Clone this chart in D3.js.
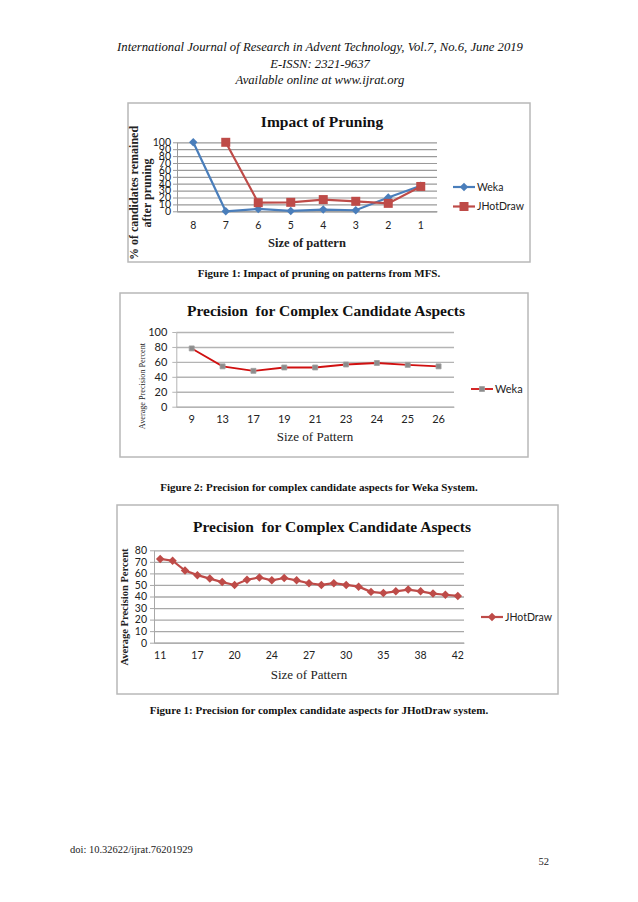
<!DOCTYPE html>
<html><head><meta charset="utf-8">
<script src="https://cdn.jsdelivr.net/npm/d3@7"></script>
<style>body{margin:0;background:#fff} text.ttl{white-space:pre}</style>
</head><body><svg id="page" width="638" height="902"></svg>
<script>
// ---------- data ----------
const pruneSizes = ["8","7","6","5","4","3","2","1"];
const pruneWeka = [100, 0, 3.5, 0.5, 2.5, 1.5, 20, 37];
const pruneJHotDraw = [null, 100, 12.5, 13, 17, 14.5, 11.5, 36];
const pruneTicks = [0,10,20,30,40,50,60,70,80,90,100];

const wekaSizes = ["9","13","17","19","21","23","24","25","26"];
const wekaPrecision = [78, 54, 48, 52.5, 52.5, 56.5, 58.5, 56, 54];
const wekaTicks = [0,20,40,60,80,100];

const jhotSizes = ["11","13","15","17","18","19","20","21","23","24","25","26","27","28","29","30","31","33","35","36","37","38","39","40","42"];
const jhotShownLabels = ["11","17","20","24","27","30","35","38","42"];
const jhotPrecision = [72.5, 71, 62.5, 58.5, 55.5, 52.5, 50, 54.5, 56.5, 54, 56, 54, 51.5, 50, 51.5, 50, 48.5, 44, 43, 44.5, 46, 44.5, 42.5, 41.5, 40.5];
const jhotTicks = [0,10,20,30,40,50,60,70,80];

const headerLines = ["International Journal of Research in Advent Technology, Vol.7, No.6, June 2019", "E-ISSN: 2321-9637", "Available online at www.ijrat.org"];

// ---------- page ----------
const serif = "'Liberation Serif','Times New Roman',serif";
const sans = "Lato,'Liberation Sans',sans-serif";
const svg = d3.select("#page");
svg.append("rect").attr("width",638).attr("height",902).attr("fill","#fff");

svg.selectAll("text.hdr").data(headerLines).join("text")
  .attr("class","hdr").attr("x",320).attr("y",(d,i)=>[51,67.5,84][i])
  .attr("text-anchor","middle").attr("font-family",serif).attr("font-style","italic")
  .attr("font-size",12.7).attr("fill","#111").text(d=>d);

function caption(txt, y){
  svg.append("text").attr("x",319).attr("y",y).attr("text-anchor","middle")
    .attr("font-family",serif).attr("font-weight","bold").attr("font-size",11)
    .attr("fill","#111").text(txt);
}
caption("Figure 1: Impact of pruning on patterns from MFS.", 277);
caption("Figure 2: Precision for complex candidate aspects for Weka System.", 491);
caption("Figure 1: Precision for complex candidate aspects for JHotDraw system.", 714);

svg.append("text").attr("x",70).attr("y",853).attr("font-family",serif).attr("font-size",10.5).attr("fill","#222").text("doi: 10.32622/ijrat.76201929");
svg.append("text").attr("x",549).attr("y",865).attr("text-anchor","end").attr("font-family",serif).attr("font-size",10.5).attr("fill","#222").text("52");

let clipId = 0;
function lineChart(o){
  const g = svg.append("g");
  const [bx0,by0,bx1,by1] = o.box;
  const cid = "clip"+(clipId++);
  g.append("clipPath").attr("id",cid).append("rect").attr("x",bx0).attr("y",by0).attr("width",bx1-bx0).attr("height",by1-by0);
  g.append("rect").attr("x",bx0).attr("y",by0).attr("width",bx1-bx0).attr("height",by1-by0)
    .attr("fill","#fff").attr("stroke","#b8b8b8").attr("stroke-width",1.5);
  const inner = g.append("g").attr("clip-path",`url(#${cid})`);

  const x = d3.scaleBand().domain(o.categories).range([o.plot.left,o.plot.right]);
  const y = d3.scaleLinear().domain([0,o.yMax]).range([o.plot.bottom,o.plot.top]);
  const w = o.plot.right-o.plot.left;

  // gridlines
  const grid = inner.append("g").attr("transform",`translate(${o.plot.left},0)`)
    .call(d3.axisLeft(y).tickValues(o.yTicks).tickSize(-w).tickFormat(""));
  grid.select(".domain").remove();
  grid.selectAll("line").attr("stroke",o.gridColor).attr("stroke-width",o.gridWidth);

  // left axis
  const ya = inner.append("g").attr("transform",`translate(${o.plot.left},0)`)
    .call(d3.axisLeft(y).tickValues(o.yTicks).tickSize(4).tickSizeOuter(0).tickPadding(o.tickPad));
  ya.select(".domain").attr("stroke",o.gridColor).attr("stroke-width",1);
  ya.selectAll("line").attr("stroke",o.gridColor);
  ya.selectAll("text").attr("font-family",sans).attr("font-size",o.tickFont).attr("fill","#222");

  // bottom axis
  const xa = inner.append("g").attr("transform",`translate(0,${o.plot.bottom})`)
    .call(d3.axisBottom(x).tickValues(o.shownLabels || o.categories).tickSize(0).tickPadding(o.xPad));
  xa.select(".domain").attr("stroke",o.gridColor).attr("stroke-width",1);
  xa.selectAll("text").attr("font-family",sans).attr("font-size",o.tickFont).attr("fill","#222");

  // title
  inner.append("text").attr("class","ttl").attr("x",o.titlePos[0]).attr("y",o.titlePos[1]).attr("text-anchor","middle")
    .attr("font-family",serif).attr("font-weight","bold").attr("font-size",o.titleSize).attr("fill","#111").text(o.title);
  // x title
  inner.append("text").attr("x",o.xTitlePos[0]).attr("y",o.xTitlePos[1]).attr("text-anchor","middle")
    .attr("font-family",serif).attr("font-weight",o.xTitleBold?"bold":"normal").attr("font-size",o.xTitleSize).attr("fill","#222").text(o.xTitle);
  // y title
  const yt = inner.append("text").attr("transform",`translate(${o.yTitlePos[0]},${o.yTitlePos[1]}) rotate(-90)`)
    .attr("text-anchor","middle").attr("font-family",serif).attr("font-weight",o.yTitleBold?"bold":"normal")
    .attr("font-size",o.yTitleSize).attr("fill","#222");
  o.yTitle.forEach((t,i)=>yt.append("tspan").attr("x",0).attr("dy",i===0?0:o.yTitleSize*1.05).text(t));

  // series
  o.series.forEach((s,si)=>{
    const pts = o.categories.map((c,i)=>({c, v:s.values[i]})).filter(d=>d.v!=null);
    const line = d3.line().x(d=>x(d.c)+x.bandwidth()/2).y(d=>y(d.v));
    inner.append("path").datum(pts).attr("d",line).attr("fill","none")
      .attr("stroke",s.color).attr("stroke-width",s.width);
    const sym = d3.symbol().type(d3.symbolSquare).size(s.markerSize*s.markerSize);
    inner.selectAll(null).data(pts).join("path")
      .attr("d",sym())
      .attr("transform",d=>`translate(${x(d.c)+x.bandwidth()/2},${y(d.v)}) rotate(${s.marker==="diamond"?45:0})`)
      .attr("fill",s.markerFill).attr("stroke",s.markerStroke||"none").attr("stroke-width",0.8);
    // legend
    const ly = o.legend.y[si], lx = o.legend.x;
    inner.append("line").attr("x1",lx).attr("x2",lx+22).attr("y1",ly).attr("y2",ly)
      .attr("stroke",s.color).attr("stroke-width",s.width);
    inner.append("path").attr("d",sym()).attr("transform",`translate(${lx+11},${ly}) rotate(${s.marker==="diamond"?45:0})`)
      .attr("fill",s.markerFill).attr("stroke",s.markerStroke||"none").attr("stroke-width",0.8);
    inner.append("text").attr("x",lx+24).attr("y",ly).attr("dy","0.35em")
      .attr("font-family",sans).attr("font-size",o.legendFont).attr("fill","#222").text(s.name);
  });
}

lineChart({
  box:[128,103,530,262],
  plot:{left:177,right:437,top:142.3,bottom:211.3},
  categories:pruneSizes, yMax:100, yTicks:pruneTicks,
  gridColor:"#9a9a9a", gridWidth:1.2, tickFont:10.5, tickPad:2, xPad:10,
  title:"Impact of Pruning", titlePos:[322,127], titleSize:15.5,
  xTitle:"Size of pattern", xTitlePos:[307,247], xTitleSize:12.5, xTitleBold:true,
  yTitle:["% of candidates remained","after pruning"], yTitlePos:[138,193], yTitleSize:12, yTitleBold:true,
  legend:{x:453,y:[187,206.5]}, legendFont:10.5,
  series:[
    {name:"Weka", values:pruneWeka, color:"#4a7ebb", width:2.2, marker:"diamond", markerSize:6, markerFill:"#4a7ebb"},
    {name:"JHotDraw", values:pruneJHotDraw, color:"#be4b48", width:2.2, marker:"square", markerSize:9, markerFill:"#be4b48"}
  ]
});

lineChart({
  box:[120,293,528,457],
  plot:{left:176.3,right:454,top:332,bottom:406.7},
  categories:wekaSizes, yMax:100, yTicks:wekaTicks,
  gridColor:"#b4b4b4", gridWidth:1.4, tickFont:11, tickPad:5, xPad:9,
  title:"Precision  for Complex Candidate Aspects", titlePos:[326,316], titleSize:15.5,
  xTitle:"Size of Pattern", xTitlePos:[315,441], xTitleSize:13, xTitleBold:false,
  yTitle:["Average Precision Percent"], yTitlePos:[145,386], yTitleSize:8.2, yTitleBold:false,
  legend:{x:471,y:[389]}, legendFont:11,
  series:[
    {name:"Weka", values:wekaPrecision, color:"#d01010", width:1.8, marker:"square", markerSize:5, markerFill:"#8c8c8c", markerStroke:"#a0a0a0"}
  ]
});

lineChart({
  box:[117,505,558,694],
  plot:{left:154,right:464,top:550.3,bottom:642.7},
  categories:jhotSizes, shownLabels:jhotShownLabels, yMax:80, yTicks:jhotTicks,
  gridColor:"#a8a8a8", gridWidth:1.3, tickFont:10.5, tickPad:3, xPad:9,
  title:"Precision  for Complex Candidate Aspects", titlePos:[332,532], titleSize:15.5,
  xTitle:"Size of Pattern", xTitlePos:[309,679], xTitleSize:13, xTitleBold:false,
  yTitle:["Average Precision Percent"], yTitlePos:[128,607], yTitleSize:10.5, yTitleBold:true,
  legend:{x:481,y:[617]}, legendFont:10.5,
  series:[
    {name:"JHotDraw", values:jhotPrecision, color:"#be4b48", width:2.2, marker:"diamond", markerSize:6, markerFill:"#be4b48"}
  ]
});
</script></body></html>
